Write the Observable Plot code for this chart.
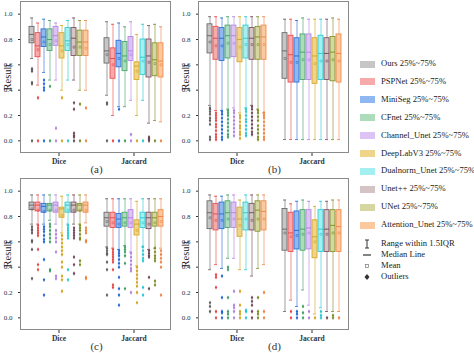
<!DOCTYPE html>
<html><head><meta charset="utf-8">
<script src="https://cdn.jsdelivr.net/npm/d3@7"></script>
<script src="https://cdn.jsdelivr.net/npm/@observablehq/plot@0.6"></script>
<style>
body{margin:0;background:#fff;}
#root{position:relative;width:474px;height:353px;overflow:hidden;font-family:"Liberation Serif","Times New Roman","DejaVu Serif",serif;background:#fff;}
.panel{position:absolute;}
.frame{position:absolute;border:1px solid #8a8a8a;box-sizing:border-box;pointer-events:none;}
.panel g[aria-label="fx-axis tick label"]{font-weight:bold;font-size:7.5px;}
.panel g[aria-label="fx-axis label"]{font-size:11px;}
.lg{position:absolute;left:360px;height:12px;line-height:12px;font-size:8.6px;color:#222;white-space:nowrap;}
.lg svg{vertical-align:middle;margin-right:6px;}
</style></head>
<body><div id="root"></div>
<script>
const methods = ["Ours","PSPNet","MiniSeg","CFnet","Channel_Unet","DeepLabV3","Dualnorm_Unet","Unet++","UNet","Attention_Unet"];
const metrics = ["Dice","Jaccard"];
const fills = ["#c6c6c6","#f8a9a9","#8fb8f2","#acdcbc","#dcc3f4","#f0d48a","#a4f0f0","#d4c4c6","#d6d6a0","#fcc99e"];
const strokes = ["#5f5f5f","#e84545","#2266d4","#3f9e62","#b07fe0","#d2a21e","#22c8d2","#6e4656","#7c8c22","#ef8240"];
const yTicks = [0, 0.2, 0.4, 0.6, 0.8, 1.0];
const panelLabels = ["(a)","(b)","(c)","(d)"];
const yLabel = "Result";

// each row: [lower whisker, Q1, median, Q3, upper whisker, mean]
const aDice = [[0.65,0.77,0.84,0.90,0.97,0.80],[0.44,0.66,0.75,0.85,0.93,0.72],[0.54,0.74,0.82,0.88,0.96,0.78],[0.48,0.71,0.80,0.88,0.95,0.76],[0.48,0.75,0.83,0.90,0.93,0.79],[0.40,0.65,0.75,0.85,0.91,0.71],[0.48,0.71,0.79,0.89,0.95,0.76],[0.48,0.67,0.81,0.89,0.97,0.74],[0.40,0.67,0.78,0.87,0.95,0.74],[0.40,0.67,0.78,0.87,0.95,0.73]];
const aJaccard = [[0.36,0.61,0.71,0.81,0.94,0.68],[0.20,0.49,0.65,0.73,0.92,0.60],[0.27,0.58,0.69,0.79,0.93,0.65],[0.27,0.55,0.67,0.78,0.90,0.63],[0.32,0.63,0.71,0.82,0.94,0.68],[0.20,0.48,0.59,0.62,0.84,0.55],[0.32,0.52,0.66,0.80,0.92,0.63],[0.14,0.50,0.67,0.80,0.91,0.62],[0.16,0.51,0.64,0.77,0.92,0.61],[0.15,0.50,0.63,0.77,0.90,0.60]];
const aDiceOut = [[0.57,0.56,0.55,0.46,0.45,0.0],[0.34,0.0],[0.48,0.45,0.42,0.40,0.0],[0.43,0.0],[0.10,0.0],[0.34,0.0],[0.0],[0.30,0.25,0.06,0.04,0.03,0.0],[0.29,0.0],[0.26,0.0]];
const aJaccardOut = [[0.30,0.29,0.0],[0.0],[0.25,0.0],[0.0],[0.05,0.0],[0.0],[0.0],[0.03,0.02,0.01,0.0],[0.0],[0.0]];

const bDice = [[0.28,0.69,0.83,0.92,0.98,0.78],[0.24,0.64,0.81,0.90,0.98,0.75],[0.24,0.63,0.81,0.89,0.97,0.75],[0.25,0.65,0.83,0.91,0.98,0.77],[0.26,0.66,0.83,0.91,0.98,0.77],[0.22,0.62,0.80,0.89,0.98,0.74],[0.26,0.65,0.81,0.91,0.98,0.76],[0.28,0.64,0.81,0.89,0.98,0.76],[0.25,0.64,0.82,0.90,0.98,0.76],[0.22,0.64,0.82,0.91,0.98,0.76]];
const bJaccard = [[0.01,0.49,0.71,0.85,0.96,0.65],[0.01,0.46,0.68,0.83,0.96,0.62],[0.01,0.46,0.67,0.81,0.95,0.62],[0.01,0.48,0.70,0.84,0.97,0.64],[0.01,0.48,0.70,0.84,0.96,0.64],[0.01,0.45,0.67,0.81,0.96,0.61],[0.01,0.48,0.69,0.83,0.96,0.63],[0.01,0.48,0.69,0.81,0.96,0.63],[0.01,0.47,0.70,0.82,0.97,0.64],[0.01,0.46,0.69,0.84,0.96,0.63]];
const bDiceOut = [[0.26,0.25,0.23,0.21,0.18,0.16,0.13,0.03,0.01],[0.22,0.20,0.18,0.16,0.13,0.11,0.08,0.05,0.03,0.01],[0.23,0.21,0.18,0.15,0.12,0.09,0.06,0.03,0.01],[0.24,0.22,0.20,0.17,0.14,0.11,0.08,0.05,0.03],[0.24,0.22,0.19,0.16,0.13,0.10,0.07,0.04],[0.20,0.18,0.15,0.12,0.10,0.07,0.05,0.02],[0.25,0.23,0.20,0.17,0.15,0.12,0.09,0.06,0.04],[0.27,0.25,0.22,0.19,0.16,0.13,0.10,0.07,0.05],[0.24,0.22,0.19,0.16,0.12,0.09,0.06,0.03,0.01],[0.22,0.20,0.18,0.15,0.12,0.09,0.06,0.03,0.01]];
const bJaccardOut = [[],[],[],[],[],[],[],[],[],[]];

const cDice = [[0.74,0.85,0.89,0.91,0.97,0.86],[0.74,0.84,0.89,0.91,0.97,0.85],[0.74,0.83,0.88,0.90,0.97,0.84],[0.77,0.84,0.89,0.90,0.97,0.85],[0.74,0.83,0.89,0.91,0.97,0.85],[0.67,0.79,0.86,0.87,0.96,0.81],[0.74,0.83,0.89,0.91,0.97,0.85],[0.74,0.83,0.89,0.91,0.97,0.85],[0.74,0.84,0.89,0.90,0.97,0.85],[0.75,0.83,0.89,0.91,0.97,0.85]];
const cJaccard = [[0.56,0.72,0.79,0.83,0.94,0.76],[0.55,0.71,0.79,0.83,0.94,0.75],[0.54,0.71,0.78,0.82,0.94,0.74],[0.57,0.72,0.79,0.83,0.94,0.75],[0.52,0.71,0.79,0.85,0.94,0.75],[0.41,0.65,0.74,0.77,0.92,0.69],[0.56,0.71,0.79,0.83,0.94,0.75],[0.54,0.70,0.79,0.83,0.94,0.74],[0.55,0.72,0.79,0.83,0.94,0.75],[0.55,0.72,0.80,0.85,0.94,0.76]];
const cDiceOut = [[0.72,0.70,0.69,0.67,0.61,0.60,0.54,0.31],[0.73,0.71,0.69,0.67,0.65,0.54,0.42,0.38],[0.72,0.70,0.68,0.65,0.62,0.60,0.46,0.30,0.18],[0.74,0.72,0.69,0.66,0.63,0.60,0.38,0.37],[0.69,0.66,0.63,0.60,0.52,0.33,0.31],[0.65,0.62,0.59,0.56,0.53,0.50,0.44,0.40,0.33,0.30,0.21],[0.73,0.71,0.69,0.67,0.65,0.63,0.38,0.30],[0.71,0.69,0.67,0.65,0.63,0.48,0.42,0.35],[0.73,0.71,0.69,0.66,0.63,0.62,0.45,0.42],[0.71,0.69,0.67,0.61,0.60,0.32,0.31]];
const cJaccardOut = [[0.55,0.53,0.51,0.50,0.44,0.38,0.18],[0.54,0.52,0.50,0.48,0.46,0.44,0.38,0.26,0.24],[0.53,0.51,0.49,0.46,0.43,0.40,0.32,0.23,0.18,0.10],[0.56,0.54,0.52,0.49,0.43,0.23],[0.51,0.48,0.45,0.42,0.39,0.37,0.20],[0.40,0.37,0.34,0.31,0.28,0.25,0.20,0.12],[0.56,0.53,0.50,0.47,0.45,0.24,0.18],[0.53,0.51,0.49,0.48,0.32,0.23],[0.55,0.52,0.49,0.47,0.45,0.29,0.26],[0.53,0.50,0.47,0.44,0.40,0.18]];

const dDice = [[0.38,0.70,0.83,0.92,0.97,0.79],[0.42,0.69,0.82,0.90,0.96,0.77],[0.39,0.70,0.82,0.91,0.96,0.77],[0.47,0.71,0.83,0.92,0.97,0.78],[0.47,0.71,0.83,0.91,0.97,0.78],[0.38,0.64,0.78,0.87,0.93,0.73],[0.38,0.69,0.83,0.91,0.97,0.78],[0.33,0.69,0.83,0.90,0.97,0.77],[0.39,0.68,0.85,0.92,0.97,0.78],[0.42,0.69,0.84,0.92,0.97,0.78]];
const dJaccard = [[0.05,0.53,0.70,0.86,0.93,0.67],[0.14,0.52,0.67,0.83,0.90,0.64],[0.09,0.54,0.69,0.84,0.92,0.65],[0.22,0.53,0.70,0.85,0.93,0.66],[0.10,0.54,0.71,0.85,0.92,0.67],[0.03,0.47,0.64,0.77,0.88,0.60],[0.08,0.52,0.70,0.85,0.92,0.66],[0.05,0.52,0.70,0.85,0.92,0.66],[0.05,0.52,0.73,0.85,0.93,0.67],[0.05,0.52,0.72,0.85,0.93,0.67]];
const dDiceOut = [[0.12,0.09,0.05],[0.34,0.32,0.24,0.05,0.0],[0.33,0.16,0.05,0.04,0.0],[0.40,0.38,0.16,0.05,0.03,0.0],[0.21,0.10,0.08,0.05,0.0],[0.21,0.10,0.05,0.03,0.0],[0.06,0.05,0.0],[0.16,0.13,0.10,0.05,0.0],[0.16,0.05,0.03,0.0],[0.20,0.05,0.0]];
const dJaccardOut = [[],[0.05,0.0],[0.05,0.03,0.0],[0.09,0.04,0.0],[0.05,0.0],[0.0],[0.05,0.02,0.0],[0.0],[0.02,0.0],[0.0]];

const legendExtra = ["Range within 1.5IQR","Median Line","Mean","Outliers"];

const FONT = '"Liberation Serif","Times New Roman","DejaVu Serif",serif';
const W = 176, H = 176, ML = 20, MR = 5, MT = 1, MB = 23;
const root = document.getElementById("root");
const NS = "http://www.w3.org/2000/svg";

function panel(stats, outs, label, left, top) {
  const rows = [], outRows = [];
  metrics.forEach((m, mi) => stats[mi].forEach((s, i) => rows.push({metric: m, method: methods[i], lo: s[0], q1: s[1], med: s[2], q3: s[3], hi: s[4], mean: s[5], fill: fills[i], stroke: strokes[i]})));
  metrics.forEach((m, mi) => outs[mi].forEach((vals, i) => vals.forEach(v => outRows.push({metric: m, method: methods[i], v, stroke: strokes[i]}))));
  const common = {fx: "metric", x: "method"};
  const chart = Plot.plot({
    width: W, height: H, marginLeft: ML, marginRight: MR, marginTop: MT, marginBottom: MB,
    style: {fontSize: "7px", fontFamily: FONT, color: "#333", background: "transparent", overflow: "visible"},
    fx: {domain: metrics, padding: 0, axis: "bottom", label, labelAnchor: "center", labelOffset: 19, tickSize: 3, tickPadding: 2},
    x: {domain: methods, paddingInner: 0.2, paddingOuter: 1.1, axis: null},
    y: {domain: [-0.1, 1.1], ticks: yTicks, tickFormat: d3.format(".1f"), label: null, tickSize: 3},
    color: {type: "identity"},
    marks: [
      Plot.ruleX(rows, {...common, y1: "lo", y2: "hi", stroke: "stroke", strokeWidth: 0.8, strokeOpacity: 0.75}),
      Plot.tickY(rows, {...common, y: "lo", stroke: "stroke", strokeWidth: 0.8, insetLeft: 1, insetRight: 1}),
      Plot.tickY(rows, {...common, y: "hi", stroke: "stroke", strokeWidth: 0.8, insetLeft: 1, insetRight: 1}),
      Plot.barY(rows, {...common, y1: "q1", y2: "q3", fill: "fill", stroke: "stroke", strokeWidth: 0.8}),
      Plot.tickY(rows, {...common, y: "med", stroke: "stroke", strokeWidth: 0.9}),
      Plot.dot(rows, {...common, y: "mean", symbol: "square", r: 1.1, stroke: "stroke", strokeWidth: 0.5, fill: "none"}),
      Plot.dot(outRows, {...common, y: "v", symbol: "diamond", r: 1.3, fill: "stroke", stroke: "none"})
    ]
  });
  const wrap = document.createElement("div");
  wrap.className = "panel";
  wrap.style.left = left + "px"; wrap.style.top = top + "px";
  wrap.appendChild(chart);
  root.appendChild(wrap);
  const fr = document.createElement("div");
  fr.className = "frame";
  fr.style.left = (left + ML) + "px"; fr.style.top = (top + MT) + "px";
  fr.style.width = (W - ML - MR) + "px"; fr.style.height = (H - MT - MB) + "px";
  root.appendChild(fr);
  // rotated y-axis title as real SVG text
  const cy = top + MT + (H - MT - MB) / 2;
  const s = document.createElementNS(NS, "svg");
  s.setAttribute("width", 15); s.setAttribute("height", 44);
  s.style.position = "absolute"; s.style.left = left + "px"; s.style.top = (cy - 22) + "px";
  const t = document.createElementNS(NS, "text");
  t.setAttribute("transform", "translate(11,22) rotate(-90)");
  t.setAttribute("text-anchor", "middle");
  t.setAttribute("font-size", "10.5");
  t.setAttribute("font-family", FONT);
  t.setAttribute("fill", "#222");
  t.textContent = yLabel;
  s.appendChild(t);
  root.appendChild(s);
}

panel([aDice, aJaccard], [aDiceOut, aJaccardOut], panelLabels[0], 0, 0);
panel([bDice, bJaccard], [bDiceOut, bJaccardOut], panelLabels[1], 178, 0);
panel([cDice, cJaccard], [cDiceOut, cJaccardOut], panelLabels[2], 0, 177);
panel([dDice, dJaccard], [dDiceOut, dJaccardOut], panelLabels[3], 178, 177);

// legend
function svgEl(w, h, html) {
  const s = document.createElementNS(NS, "svg");
  s.setAttribute("width", w); s.setAttribute("height", h);
  s.innerHTML = html;
  return s;
}
methods.forEach((m, i) => {
  const d = document.createElement("div");
  d.className = "lg";
  d.style.top = (57 + i * 17.9) + "px";
  d.appendChild(svgEl(15, 7, `<rect x="0.5" y="0.5" width="14" height="6" fill="${fills[i]}" stroke="${fills[i]}"/>`));
  d.appendChild(document.createTextNode(m + " 25%~75%"));
  root.appendChild(d);
});
const symbols = [
  `<path d="M5 1V9M3 1H7M3 9H7" stroke="#333" stroke-width="1" fill="none"/>`,
  `<path d="M1 5H9" stroke="#333" stroke-width="1.2"/>`,
  `<rect x="3.5" y="3.5" width="3" height="3" fill="none" stroke="#777" stroke-width="0.7"/>`,
  `<path d="M5 2L7.5 5L5 8L2.5 5Z" fill="#333"/>`
];
legendExtra.forEach((t, i) => {
  const d = document.createElement("div");
  d.className = "lg";
  d.style.left = "362px";
  d.style.top = (237 + i * 11) + "px";
  d.style.fontSize = "8.6px";
  d.appendChild(svgEl(10, 10, symbols[i]));
  d.lastChild.style.marginRight = "9px";
  d.appendChild(document.createTextNode(t));
  root.appendChild(d);
});
</script>
</body></html>
